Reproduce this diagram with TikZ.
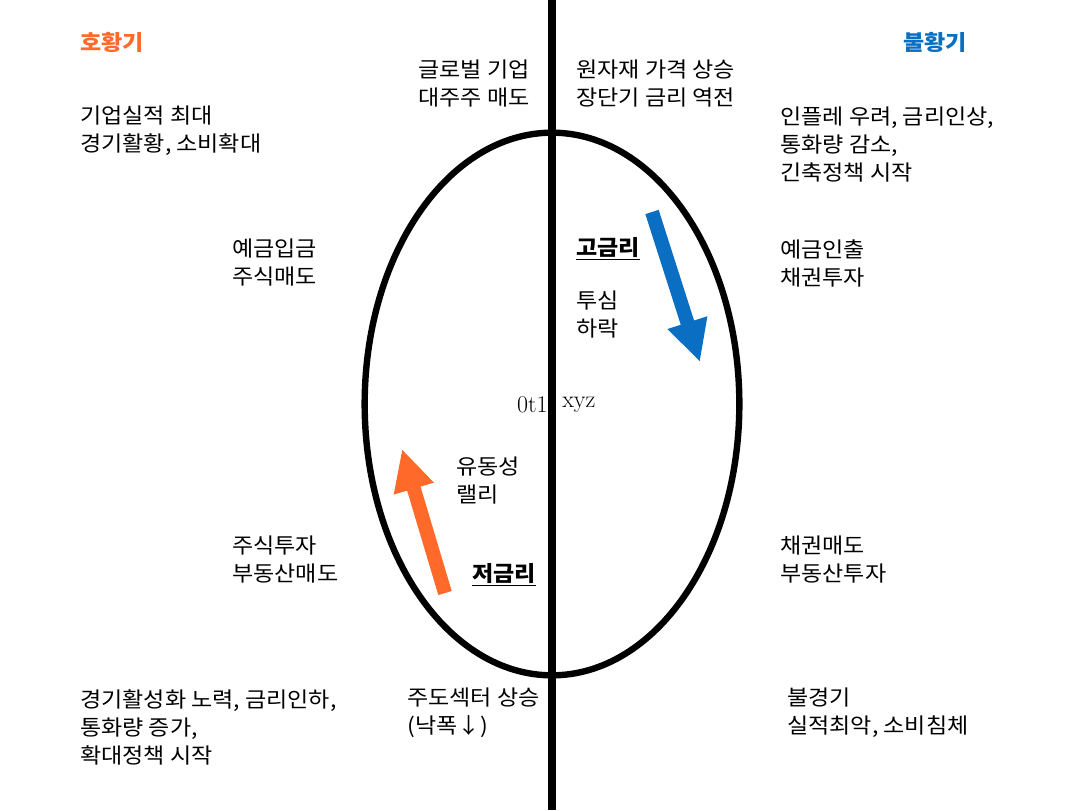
\documentclass[tikz,border=0pt]{standalone}
\usepackage{fontspec}
\setmainfont[FakeStretch=1.08]{Noto Sans CJK KR}
\usetikzlibrary{arrows.meta,shapes.geometric}
\definecolor{boomor}{HTML}{FF6A2A}
\definecolor{bustbl}{HTML}{0A6FC2}
\begin{document}
\begin{tikzpicture}[x=0.75pt,y=-0.75pt,
  txt/.style={inner sep=0pt,anchor=west,align=left,font=\fontsize{16}{21}\selectfont},
  ttl/.style={inner sep=0pt,anchor=west,font=\fontsize{16}{21}\selectfont\bfseries},
  lm/.style={inner sep=0pt,font=\fontsize{18}{20}\fontspec{Latin Modern Roman}},
  bigarrow/.style={line width=10.5pt,-{Triangle[width=29pt,length=31pt]}}]
\useasboundingbox (0,0) rectangle (1080,810);
\fill[white] (0,0) rectangle (1080,810);
% axis and ellipse
\coordinate (top) at (552,0);
\coordinate (bot) at (552,810);
\draw[line width=6pt] (top) -- (bot);
\node[draw,line width=4.8pt,ellipse,minimum width=281pt,minimum height=407pt,inner sep=0pt] (cyc) at (552,404) {};
% titles
\node[ttl,text=boomor] (boom) at (80,42) {호황기};
\node[ttl,text=bustbl] (bust) at (903,42) {불황기};
% texts
\node[txt] (t1) at (80,131) {기업실적 최대\\경기활황, 소비확대};
\node[txt] (t2) at (418,84) {글로벌 기업\\대주주 매도};
\node[txt] (t3) at (576,84) {원자재 가격 상승\\장단기 금리 역전};
\node[txt] (t4) at (780,145) {인플레 우려, 금리인상,\\통화량 감소,\\긴축정책 시작};
\node[txt] (t5) at (232,263) {예금입금\\주식매도};
\node[ttl] (hi) at (576,249) {\underline{고금리}};
\node[txt] (t6) at (780,263) {예금인출\\채권투자};
\node[txt] (t7) at (576,315) {투심\\하락};
\node[lm,anchor=east] (z1) at (548,405) {0t1};
\node[lm,anchor=west] (z2) at (562,405) {xyz};
\node[txt] (t8) at (456,481) {유동성\\랠리};
\node[txt] (t9) at (232,560) {주식투자\\부동산매도};
\node[ttl] (lo) at (472,575) {\underline{저금리}};
\node[txt] (t10) at (780,560) {채권매도\\부동산투자};
\node[txt] (t11) at (80,727) {경기활성화 노력, 금리인하,\\통화량 증가,\\확대정책 시작};
\node[txt] (t12) at (407,713) {주도섹터 상승\\(낙폭↓)};
\node[txt] (t13) at (787,713) {불경기\\실적최악, 소비침체};
% arrows
\coordinate (oa) at (445,593);
\coordinate (ob) at (402,449);
\draw[bigarrow,draw=boomor,fill=boomor] (oa) -- (ob);
\coordinate (ba) at (652,212);
\coordinate (bb) at (700,362);
\draw[bigarrow,draw=bustbl,fill=bustbl] (ba) -- (bb);
\end{tikzpicture}
\end{document}
